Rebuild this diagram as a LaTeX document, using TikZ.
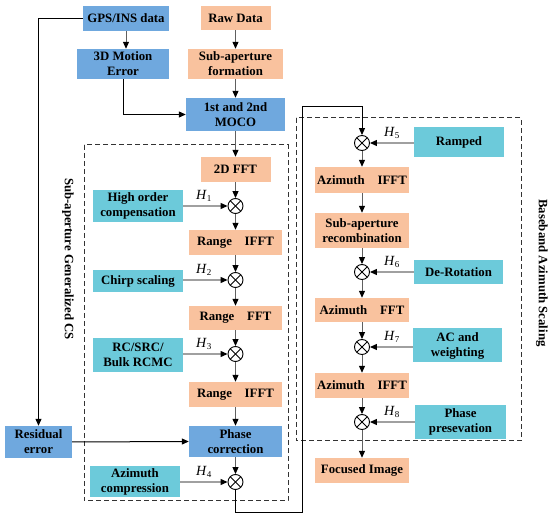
\documentclass[tikz,border=0pt]{standalone}
\usepackage{fontspec}
\setmainfont{Liberation Serif}
\usetikzlibrary{arrows.meta}
\definecolor{boxblue}{RGB}{111,168,222}
\definecolor{boxcyan}{RGB}{108,202,218}
\definecolor{boxorange}{RGB}{249,194,158}
\definecolor{lgray}{RGB}{160,160,160}
\tikzset{
  box/.style={inner sep=0pt, align=center, font=\fontsize{12.8}{15}\selectfont\bfseries},
  bbox/.style={box, fill=boxblue},
  cbox/.style={box, fill=boxcyan},
  obox/.style={box, fill=boxorange},
  otimesnode/.style={circle, draw=black, line width=0.9pt, minimum size=15pt, inner sep=0pt,
    path picture={\draw[line width=0.9pt] ([shift={(45:7.5pt)}]path picture bounding box.center) -- ([shift={(225:7.5pt)}]path picture bounding box.center);
                  \draw[line width=0.9pt] ([shift={(135:7.5pt)}]path picture bounding box.center) -- ([shift={(315:7.5pt)}]path picture bounding box.center);}},
  tipa/.style={-{Triangle[length=7pt,width=6pt,color=black]}},
  mainline/.style={tipa, draw=black, line width=1pt},
  flowline/.style={tipa, draw=gray!75!black, line width=1pt},
  hline/.style={tipa, draw=lgray, line width=1.2pt},
  hlabel/.style={inner sep=0pt, font=\fontsize{14}{14}\selectfont},
  dashbox/.style={draw=black!80, line width=1pt, dash pattern=on 5pt off 3pt},
  sidelabel/.style={inner sep=0pt, font=\fontsize{12.8}{15}\selectfont\bfseries, rotate=-90}
}
\newcommand{\Hsub}[1]{\textit{H}\textsubscript{\fontsize{9}{9}\selectfont #1}}
\begin{document}
\begin{tikzpicture}[x=1pt,y=-1pt]
\useasboundingbox (0,0) rectangle (550,521);
% dashed frames
\draw[dashbox] (84,145) rectangle (288,501);
\draw[dashbox] (296,118) rectangle (521,441);
\node[sidelabel] (lblcs) at (68,259) {Sub-aperture Generalized CS};
\node[sidelabel] (lblaz) at (542,273) {Baseband Azimuth Scaling};
% top
\node[bbox, minimum width=86pt, minimum height=25pt] (gps) at (126,18.5) {GPS/INS data};
\node[obox, minimum width=70pt, minimum height=24pt] (raw) at (235.5,18) {Raw Data};
\node[bbox, minimum width=92pt, minimum height=30pt] (mot) at (123,64) {3D Motion\\Error};
\node[obox, minimum width=95pt, minimum height=30pt] (sub) at (235.5,64) {Sub-aperture\\formation};
\node[bbox, minimum width=99pt, minimum height=33pt] (moco) at (235.5,114.5) {1st and 2nd\\MOCO};
% left column
\node[obox, minimum width=70pt, minimum height=25pt] (fft) at (235.5,169.5) {2D FFT};
\node[otimesnode] (o1) at (235.5,206) {};
\node[cbox, minimum width=90pt, minimum height=32pt] (hoc) at (138,206) {High order\\compensation};
\node[obox, minimum width=93pt, minimum height=25pt] (ri1) at (235.5,242.5) {Range\quad IFFT};
\node[otimesnode] (o2) at (235.5,280) {};
\node[cbox, minimum width=90pt, minimum height=22pt] (cs) at (138,281) {Chirp scaling};
\node[obox, minimum width=93pt, minimum height=24pt] (rf) at (235.5,318) {Range\quad FFT};
\node[otimesnode] (o3) at (235.5,354) {};
\node[cbox, minimum width=90pt, minimum height=34pt] (rc) at (138,355) {RC/SRC/\\Bulk RCMC};
\node[obox, minimum width=93pt, minimum height=25pt] (ri2) at (235.5,394.5) {Range\quad IFFT};
\node[bbox, minimum width=93pt, minimum height=31pt] (pc) at (235.5,441.5) {Phase\\correction};
\node[bbox, minimum width=67pt, minimum height=32pt] (res) at (38.5,442) {Residual\\error};
\node[otimesnode] (o4) at (235.5,482) {};
\node[cbox, minimum width=90pt, minimum height=31pt] (az) at (135,481.5) {Azimuth\\compression};
% right column
\node[otimesnode] (o5) at (362,143) {};
\node[cbox, minimum width=90pt, minimum height=30pt] (ramp) at (459,142) {Ramped};
\node[obox, minimum width=94pt, minimum height=26pt] (ai1) at (362,180) {Azimuth\quad IFFT};
\node[obox, minimum width=94pt, minimum height=35pt] (srec) at (362,230.5) {Sub-aperture\\recombination};
\node[otimesnode] (o6) at (362,272) {};
\node[cbox, minimum width=89pt, minimum height=24pt] (derot) at (458.5,272) {De-Rotation};
\node[obox, minimum width=94pt, minimum height=24pt] (af) at (362,310) {Azimuth\quad FFT};
\node[otimesnode] (o7) at (362,347) {};
\node[cbox, minimum width=89pt, minimum height=34pt] (ac) at (457.5,345.5) {AC and\\weighting};
\node[obox, minimum width=94pt, minimum height=25pt] (ai2) at (362,385.5) {Azimuth\quad IFFT};
\node[otimesnode] (o8) at (362,422) {};
\node[cbox, minimum width=91pt, minimum height=34pt] (pp) at (460.5,422) {Phase\\presevation};
\node[obox, minimum width=94pt, minimum height=25pt] (foc) at (362,470.5) {Focused Image};
% connectors top
\draw[flowline] (gps) -- (mot.north -| gps.south);
\draw[flowline] (raw) -- (sub);
\draw[flowline] (sub) -- (moco);
\draw[mainline] (mot.south) |- (moco.west);
\draw[mainline] (gps.west) -| (res.north);
\draw[mainline] (res.east) -- (pc.west);
% left column
\draw[flowline] (moco) -- (fft);
\draw[flowline] (fft) -- (o1);
\draw[flowline] (o1) -- (ri1);
\draw[flowline] (ri1) -- (o2);
\draw[flowline] (o2) -- (rf);
\draw[flowline] (rf) -- (o3);
\draw[flowline] (o3) -- (ri2);
\draw[flowline] (ri2) -- (pc);
\draw[flowline] (pc) -- (o4);
\draw[hline] (hoc.east |- o1) -- (o1);
\draw[hline] (cs.east |- o2) -- (o2);
\draw[hline] (rc.east |- o3) -- (o3);
\draw[hline] (az.east |- o4) -- (o4);
\node[hlabel] (h1) at (204,196) {\Hsub{1}};
\node[hlabel] (h2) at (204,270) {\Hsub{2}};
\node[hlabel] (h3) at (204,344) {\Hsub{3}};
\node[hlabel] (h4) at (204,472) {\Hsub{4}};
% bridge
\coordinate (b1) at (235.5,513);
\coordinate (b2) at (302,513);
\coordinate (b3) at (302,107);
\coordinate (b4) at (362,107);
\draw[mainline] (o4.south) -- (b1) -- (b2) -- (b3) -- (b4) -- (o5.north);
% right column
\draw[flowline] (o5) -- (ai1);
\draw[flowline] (ai1) -- (srec);
\draw[flowline] (srec) -- (o6);
\draw[flowline] (o6) -- (af);
\draw[flowline] (af) -- (o7);
\draw[flowline] (o7) -- (ai2);
\draw[flowline] (ai2) -- (o8);
\draw[flowline] (o8) -- (foc);
\draw[hline] (ramp.west |- o5) -- (o5);
\draw[hline] (derot.west |- o6) -- (o6);
\draw[hline] (ac.west |- o7) -- (o7);
\draw[hline] (pp.west |- o8) -- (o8);
\node[hlabel] (h5) at (392,133) {\Hsub{5}};
\node[hlabel] (h6) at (392,262) {\Hsub{6}};
\node[hlabel] (h7) at (392,337) {\Hsub{7}};
\node[hlabel] (h8) at (392,412) {\Hsub{8}};
\end{tikzpicture}
\end{document}
